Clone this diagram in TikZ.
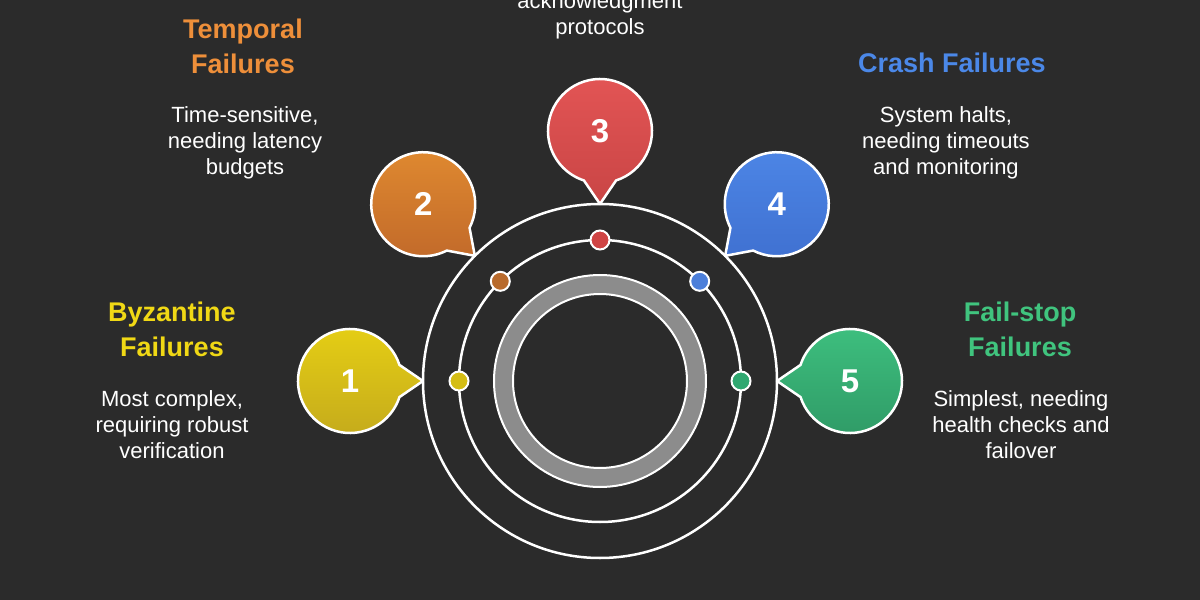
\documentclass[tikz,border=0pt]{standalone}
\usepackage{fontspec}
\setmainfont{Liberation Sans}
\usetikzlibrary{positioning}

\definecolor{bgdark}{HTML}{2B2B2B}
\definecolor{ringgray}{HTML}{8C8C8C}
\definecolor{byzcolor}{HTML}{F0D815}
\definecolor{tempcolor}{HTML}{EE8F3A}
\definecolor{crashcolor}{HTML}{4B88E8}
\definecolor{stopcolor}{HTML}{40C47E}

\begin{document}
\begin{tikzpicture}
 [ x=1pt, y=1pt
 , ring/.style={draw=white, line width=2.5pt}
 , bubble/.style={draw=white, line width=2.5pt, line join=round}
 , orbit dot/.style={circle, draw=white, line width=2pt, minimum size=19pt, inner sep=0pt}
 , number/.style={text=white, font=\bfseries\fontsize{33}{33}\selectfont}
 , title/.style={font=\bfseries\fontsize{27}{35}\selectfont, align=center, inner sep=0pt}
 , desc/.style={text=white, font=\fontsize{22}{26}\selectfont, align=center, inner sep=0pt}
 ]
  \fill [bgdark] (-600,-219) rectangle (600,381);
  \useasboundingbox (-600,-219) rectangle (600,381);

  % rings
  \coordinate (hub) at (0,0);
  \draw [ring] (hub) circle [radius=177];
  \draw [ring] (hub) circle [radius=141];
  \fill [ringgray, even odd rule] (hub) circle [radius=106] circle [radius=87];
  \draw [white, line width=2pt] (hub) circle [radius=106] circle [radius=87];

  % bubbles
  \path [bubble, top color={rgb,255:red,230;green,207;blue,20}, bottom color={rgb,255:red,196;green,170;blue,28}]
    [shift={(180:250)}] (18:52) arc [start angle=18, end angle=342, radius=52] -- (0:73) -- cycle;
  \path [bubble, top color={rgb,255:red,224;green,138;blue,48}, bottom color={rgb,255:red,194;green,106;blue,42}]
    [shift={(135:250)}] (-27:52) arc [start angle=-27, end angle=297, radius=52] -- (-45:73) -- cycle;
  \path [bubble, top color={rgb,255:red,227;green,85;blue,85}, bottom color={rgb,255:red,201;green,69;blue,69}]
    [shift={(90:250)}] (-72:52) arc [start angle=-72, end angle=252, radius=52] -- (-90:73) -- cycle;
  \path [bubble, top color={rgb,255:red,77;green,134;blue,230}, bottom color={rgb,255:red,63;green,112;blue,208}]
    [shift={(45:250)}] (-117:52) arc [start angle=-117, end angle=207, radius=52] -- (-135:73) -- cycle;
  \path [bubble, top color={rgb,255:red,62;green,192;blue,127}, bottom color={rgb,255:red,47;green,154;blue,102}]
    [shift={(0:250)}] (198:52) arc [start angle=198, end angle=522, radius=52] -- (180:73) -- cycle;

  \node [number] (n1) at (180:250) {1};
  \node [number] (n2) at (135:250) {2};
  \node [number] (n3) at (90:250) {3};
  \node [number] (n4) at (45:250) {4};
  \node [number] (n5) at (0:250) {5};

  % dots on the middle ring
  \node [orbit dot, fill={rgb,255:red,212;green,189;blue,20}] (d1) at (180:141) {};
  \node [orbit dot, fill={rgb,255:red,184;green,106;blue,44}] (d2) at (135:141) {};
  \node [orbit dot, fill={rgb,255:red,207;green,68;blue,68}] (d3) at (90:141) {};
  \node [orbit dot, fill={rgb,255:red,76;green,127;blue,218}] (d4) at (45:141) {};
  \node [orbit dot, fill={rgb,255:red,47;green,168;blue,112}] (d5) at (0:141) {};

  % labels
  \node [title, text=byzcolor] (byz title) at (-428,52) {Byzantine\\Failures};
  \node [desc] (byz desc) at (-428,-44) {Most complex,\\requiring robust\\verification};
  \node [title, text=tempcolor] (temp title) at (-357,335) {Temporal\\Failures};
  \node [desc] (temp desc) at (-355,238) {Time-sensitive,\\needing latency\\budgets};
  \node [desc] (omit desc) at (0,365) {acknowledgment\\protocols};
  \node [title, text=crashcolor] (crash title) at (352,318) {Crash Failures};
  \node [desc] (crash desc) at (346,238) {System halts,\\needing timeouts\\and monitoring};
  \node [title, text=stopcolor] (stop title) at (420,52) {Fail-stop\\Failures};
  \node [desc] (stop desc) at (421,-44) {Simplest, needing\\health checks and\\failover};
\end{tikzpicture}
\end{document}
